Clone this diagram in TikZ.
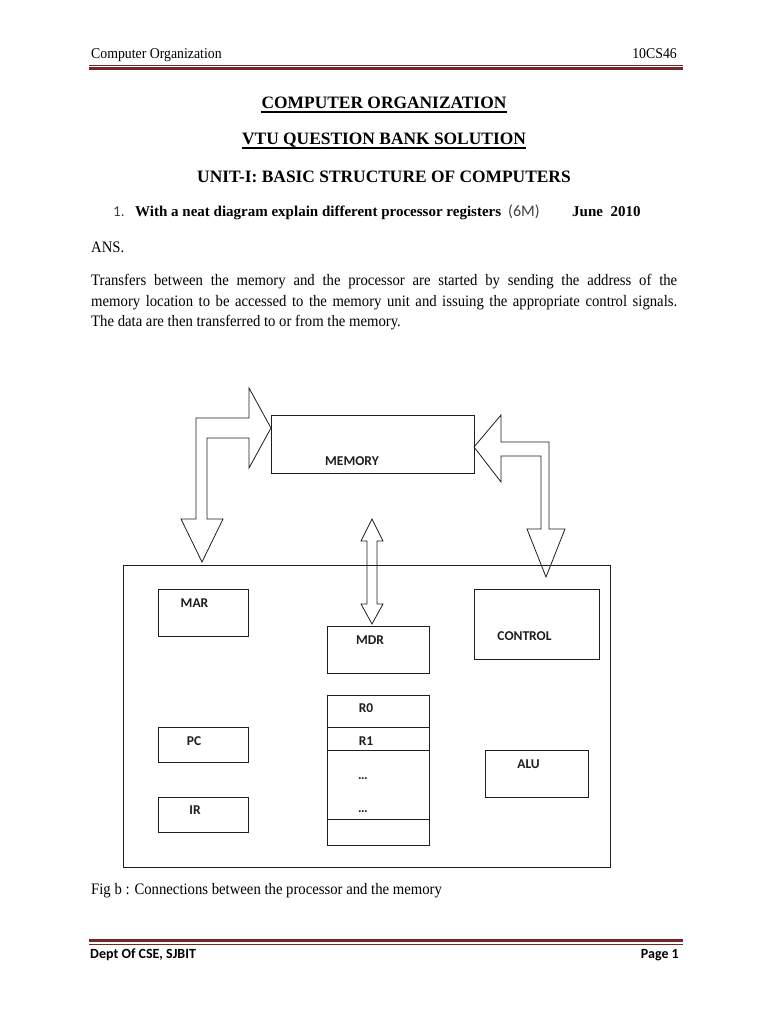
\documentclass[tikz,border=0pt]{standalone}
\usepackage{fontspec}
\setmainfont{Liberation Serif}
\newfontfamily\bodyf[FakeStretch=0.92]{Liberation Serif}
\newfontfamily\calf{Carlito}
\definecolor{hdrred}{RGB}{118,38,38}
\definecolor{ink}{RGB}{30,30,30}
\begin{document}
\begin{tikzpicture}[x=1pt,y=-1pt,
  box/.style={draw=ink, line width=0.8pt, inner sep=0pt, outer sep=0pt, rectangle},
  lbl/.style={font=\calf\bfseries\fontsize{13.5}{15}\selectfont, inner sep=0pt, text=ink},
  body/.style={font=\bodyf\fontsize{16}{19}\selectfont, inner sep=0pt, anchor=base west},
  ttl/.style={font=\bfseries\fontsize{17.4}{20}\selectfont, inner sep=0pt, anchor=base},
  blk/.style={draw=ink, line width=0.8pt, line join=miter},
  uline/.style={line width=1.1pt}
]
\useasboundingbox (0,0) rectangle (768,1024);
\fill[white] (0,0) rectangle (768,1024);

% header
\node[body, font=\bodyf\fontsize{15}{18}\selectfont] (hl) at (91,59) {Computer Organization};
\node[body, font=\bodyf\fontsize{15}{18}\selectfont, anchor=base east] (hr) at (677,59) {10CS46};
\draw[hdrred, line width=0.7pt] (89,65) -- (683,65);
\draw[hdrred, line width=3pt] (89,68.5) -- (683,68.5);

% titles
\node[ttl] (t1) at (384,109) {COMPUTER ORGANIZATION};
\draw[uline] ([yshift=-3pt]t1.base west) -- ([yshift=-3pt]t1.base east);
\node[ttl] (t2) at (384,145) {VTU QUESTION BANK SOLUTION};
\draw[uline] ([yshift=-3pt]t2.base west) -- ([yshift=-3pt]t2.base east);
\node[ttl] (t3) at (384,183) {UNIT-I: BASIC STRUCTURE OF COMPUTERS};

% question line
\node[anchor=base west, inner sep=0pt, font=\calf\fontsize{15}{18}\selectfont, text=black!75] (num) at (113,217) {1.};
\node[anchor=base west, inner sep=0pt, font=\bfseries\fontsize{15}{18}\selectfont] (q) at (135,217) {With a neat diagram explain different processor registers};
\node[anchor=base west, inner sep=0pt, font=\calf\fontsize{16}{18}\selectfont, text=black!75] (m6) at (508,217) {(6M)};
\node[anchor=base west, inner sep=0pt, font=\bfseries\fontsize{15}{18}\selectfont] (jun) at (572,217) {June\ \ 2010};

% answer text
\node[body] (ans) at (91,252) {ANS.};
\node[body] (p1) at (91,285) {\makebox[586pt][s]{Transfers between the memory and the processor are started by sending the address of the}};
\node[body] (p2) at (91,306) {\makebox[586pt][s]{memory location to be accessed to the memory unit and issuing the appropriate control signals.}};
\node[body] (p3) at (91,326) {The data are then transferred to or from the memory.};

% diagram boxes
\node[box, minimum width=203pt, minimum height=58pt] (mem) at (372.5,444) {};
\node[lbl] (memt) at (352,461) {MEMORY};
\node[box, minimum width=487pt, minimum height=302pt] (proc) at (366.5,716) {};

\node[box, minimum width=90pt, minimum height=47pt] (mar) at (203,612.5) {};
\node[lbl] at (194.5,603) {MAR};
\node[box, minimum width=102pt, minimum height=47pt] (mdr) at (378,649.5) {};
\node[lbl] at (370,640) {MDR};
\node[box, minimum width=125pt, minimum height=70pt] (ctrl) at (536.5,624) {};
\node[lbl] at (524.5,636) {CONTROL};

\node[box, minimum width=102pt, minimum height=32pt] (r0) at (378,711) {};
\node[lbl] at (366,708) {R0};
\node[box, minimum width=102pt, minimum height=23pt] (r1) at (378,738.5) {};
\node[lbl] at (366,741) {R1};
\node[box, minimum width=102pt, minimum height=69pt] (rd) at (378,784.5) {};
\node[lbl, anchor=base] at (363,779) {…};
\node[lbl, anchor=base] at (363,812) {…};
\node[box, minimum width=102pt, minimum height=26pt] (rl) at (378,832) {};

\node[box, minimum width=90pt, minimum height=35pt] (pc) at (203,744.5) {};
\node[lbl] at (194,741) {PC};
\node[box, minimum width=90pt, minimum height=35pt] (ir) at (203,814.5) {};
\node[lbl] at (195,810) {IR};
\node[box, minimum width=103pt, minimum height=47pt] (alu) at (536.5,773.5) {};
\node[lbl] at (528.5,764) {ALU};

% block arrows
\draw[blk] (207,519) -- (207,438) -- (249,438) -- (249,468) -- (271,428) -- (249,388) -- (249,418) -- (196,418) -- (196,519) -- (181,519) -- (202,562) -- (223,519) -- cycle;
\draw[blk] (474,447) -- (501,415) -- (501,442) -- (549,442) -- (549,529) -- (565,529) -- (546,577) -- (527,529) -- (541,529) -- (541,456) -- (501,456) -- (501,482) -- cycle;
\draw[blk] (372,519) -- (383,541) -- (377,541) -- (377,604) -- (383,604) -- (372,624) -- (361,604) -- (367,604) -- (367,541) -- (361,541) -- cycle;

% caption
\node[body] (cap) at (91,894) {Fig b : Connections between the processor and the memory};

% footer
\draw[hdrred, line width=3pt] (89,940) -- (683,940);
\draw[hdrred, line width=0.7pt] (89,944) -- (683,944);
\node[anchor=base west, inner sep=0pt, font=\calf\bfseries\fontsize{14}{16}\selectfont] (fl) at (90,958) {Dept Of CSE, SJBIT};
\node[anchor=base east, inner sep=0pt, font=\calf\bfseries\fontsize{14}{16}\selectfont] (fr) at (679,958) {Page 1};
\end{tikzpicture}
\end{document}
